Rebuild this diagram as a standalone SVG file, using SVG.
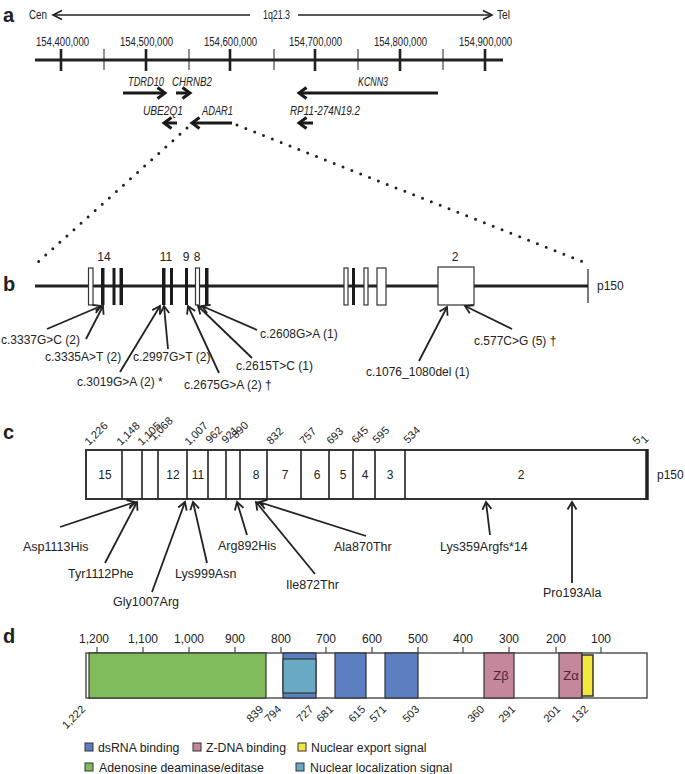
<svg xmlns="http://www.w3.org/2000/svg" xmlns:xlink="http://www.w3.org/1999/xlink" width="685" height="774" viewBox="0 0 685 774">
<style>
text{font-family:"Liberation Sans",Arial,sans-serif;fill:#222}
.pl{font-size:20px;font-weight:bold}
.sa{font-size:12.5px}
.gi{font-size:12px;font-style:italic}
.mb{font-size:12px}
.mc{font-size:12.5px}
.rl{font-size:11px}
.ax{font-size:12px}
.lg{font-size:12.3px}
.ln{stroke:#222;fill:none}
.ex{fill:#fff;stroke:#333;stroke-width:1.2}
.bk{fill:#1a1a1a}
.dot{stroke:#222;stroke-width:3;stroke-linecap:round;stroke-dasharray:0 9.5;fill:none}
.ar{stroke:#222;stroke-width:1.8;fill:none;marker-end:url(#ah)}
.ga{stroke:#1a1a1a;stroke-width:3;fill:none;marker-end:url(#gh)}
.dom{stroke:#333;stroke-width:1.2}
</style>
<defs>
<marker id="ah" markerUnits="userSpaceOnUse" markerWidth="14" markerHeight="14" viewBox="-10 -7 14 14" refX="0" refY="0" orient="auto"><path d="M-7.5,-4.5 L0,0 L-7.5,4.5" fill="none" stroke="#222" stroke-width="1.8"/></marker>
<marker id="gh" markerUnits="userSpaceOnUse" markerWidth="16" markerHeight="16" viewBox="-12 -8 16 16" refX="0" refY="0" orient="auto"><path d="M-7.5,-5.5 L0,0 L-7.5,5.5" fill="none" stroke="#1a1a1a" stroke-width="3"/></marker>
<marker id="th" markerUnits="userSpaceOnUse" markerWidth="16" markerHeight="16" viewBox="-12 -8 16 16" refX="0" refY="0" orient="auto"><path d="M-9,-4.5 L0,0 L-9,4.5" fill="none" stroke="#222" stroke-width="1.6"/></marker>
<path id="c1" d="M89,446 l40,-40"/>
<path id="c2" d="M121,446 l40,-40"/>
<path id="c3" d="M142,446 l40,-40"/>
<path id="c4" d="M154,441 l40,-40"/>
<path id="c5" d="M189,446 l40,-40"/>
<path id="c6" d="M210,444 l40,-40"/>
<path id="c7" d="M226,444 l40,-40"/>
<path id="c8" d="M236,439 l40,-40"/>
<path id="c9" d="M271,445 l40,-40"/>
<path id="c10" d="M304,445 l40,-40"/>
<path id="c11" d="M331,445 l40,-40"/>
<path id="c12" d="M356,444 l40,-40"/>
<path id="c13" d="M377,444 l40,-40"/>
<path id="c14" d="M408,444 l40,-40"/>
<path id="c15" d="M637,445 l40,-40"/>
<path id="c16" d="M645,444 l40,-40"/>
<path id="d1" d="M46,750 L86,710"/>
<path id="d2" d="M224,750 L264,710"/>
<path id="d3" d="M242,750 L282,710"/>
<path id="d4" d="M274,750 L314,710"/>
<path id="d5" d="M294,750 L334,710"/>
<path id="d6" d="M326,750 L366,710"/>
<path id="d7" d="M347,750 L387,710"/>
<path id="d8" d="M380,750 L420,710"/>
<path id="d9" d="M445,750 L485,710"/>
<path id="d10" d="M476,750 L516,710"/>
<path id="d11" d="M521,750 L561,710"/>
<path id="d12" d="M549,750 L589,710"/>
</defs>

<!-- Panel a -->
<g id="panel-a">
<text class="pl" x="3" y="22">a</text>
<text class="sa" x="29" y="19" textLength="18" lengthAdjust="spacingAndGlyphs">Cen</text>
<text class="sa" x="263" y="19" textLength="27" lengthAdjust="spacingAndGlyphs">1q21.3</text>
<text class="sa" x="497" y="19" textLength="13" lengthAdjust="spacingAndGlyphs">Tel</text>
<path d="M250,15 H53" class="ln" stroke-width="1.5" marker-end="url(#th)"/>
<path d="M298,15 H492" class="ln" stroke-width="1.5" marker-end="url(#th)"/>
<g id="scale">
<path d="M35,60 H503" class="ln" stroke-width="3"/>
<path d="M61,49 V71 M146,49 V71 M230,49 V71 M315,49 V71 M400,49 V71 M485,49 V71" class="ln" stroke-width="2.6"/>
<path d="M104,49 V70 M189,49 V70 M274,49 V70 M358,49 V70 M443,49 V70" class="ln" stroke-width="1"/>
<text class="sa" x="36" y="46" textLength="53" lengthAdjust="spacingAndGlyphs">154,400,000</text>
<text class="sa" x="120" y="46" textLength="53" lengthAdjust="spacingAndGlyphs">154,500,000</text>
<text class="sa" x="204" y="46" textLength="53" lengthAdjust="spacingAndGlyphs">154,600,000</text>
<text class="sa" x="289" y="46" textLength="53" lengthAdjust="spacingAndGlyphs">154,700,000</text>
<text class="sa" x="374" y="46" textLength="53" lengthAdjust="spacingAndGlyphs">154,800,000</text>
<text class="sa" x="459" y="46" textLength="53" lengthAdjust="spacingAndGlyphs">154,900,000</text>
</g>
<g id="gene-TDRD10"><text class="gi" x="128" y="86" textLength="36" lengthAdjust="spacingAndGlyphs">TDRD10</text><path d="M123,93 H165" class="ga"/></g>
<g id="gene-CHRNB2"><text class="gi" x="172" y="86" textLength="40" lengthAdjust="spacingAndGlyphs">CHRNB2</text><path d="M176,93 H190" class="ga"/></g>
<g id="gene-KCNN3"><text class="gi" x="358" y="86" textLength="30" lengthAdjust="spacingAndGlyphs">KCNN3</text><path d="M438,93 H299" class="ga"/></g>
<g id="gene-UBE2Q1"><text class="gi" x="143" y="115" textLength="40" lengthAdjust="spacingAndGlyphs">UBE2Q1</text><path d="M177,123 H164" class="ga"/></g>
<g id="gene-ADAR1"><text class="gi" x="202" y="115" textLength="31" lengthAdjust="spacingAndGlyphs">ADAR1</text><path d="M232,123 H192" class="ga"/></g>
<g id="gene-RP11"><text class="gi" x="290" y="115" textLength="70" lengthAdjust="spacingAndGlyphs">RP11-274N19.2</text><path d="M313,123 H299" class="ga"/></g>
<path d="M187,128 L38,262" class="dot"/>
<path d="M237,125 L586,263" class="dot"/>
</g>

<!-- Panel b -->
<g id="panel-b">
<text class="pl" x="3" y="291">b</text>
<path d="M35,286 H588" class="ln" stroke-width="3"/>
<path d="M588,269 V303" class="ln" stroke-width="1.2"/>
<text class="mb" x="597" y="290">p150</text>
<g id="exons">
<rect class="ex" x="88.5" y="268" width="4.5" height="37"/>
<rect class="bk" x="101" y="268" width="3.5" height="37"/>
<rect class="bk" x="112.5" y="268" width="3" height="37"/>
<rect class="bk" x="119.5" y="268" width="3.5" height="37"/>
<rect class="bk" x="162" y="268" width="3.5" height="37"/>
<rect class="bk" x="170" y="268" width="3" height="37"/>
<rect class="bk" x="185" y="268" width="3" height="37"/>
<rect class="ex" x="195.5" y="268" width="4" height="37"/>
<rect class="bk" x="205" y="268" width="3.5" height="37"/>
<rect class="ex" x="344" y="268" width="4" height="37"/>
<rect class="bk" x="352" y="268" width="3" height="37"/>
<rect class="ex" x="364" y="268" width="4" height="37"/>
<rect class="ex" x="377" y="268" width="9" height="37"/>
<rect class="ex" x="438" y="267" width="36" height="38"/>
</g>
<text class="mb" x="104" y="261" text-anchor="middle">14</text>
<text class="mb" x="166" y="261" text-anchor="middle">11</text>
<text class="mb" x="186" y="261" text-anchor="middle">9</text>
<text class="mb" x="197" y="261" text-anchor="middle">8</text>
<text class="mb" x="455" y="261" text-anchor="middle">2</text>
<g id="b-mutations">
<text class="mb" x="1" y="344">c.3337G&gt;C (2)</text>
<text class="mb" x="45" y="361">c.3335A&gt;T (2)</text>
<text class="mb" x="77" y="386">c.3019G&gt;A (2) *</text>
<text class="mb" x="133" y="361">c.2997G&gt;T (2)</text>
<text class="mb" x="184" y="389">c.2675G&gt;A (2) †</text>
<text class="mb" x="236" y="370">c.2615T&gt;C (1)</text>
<text class="mb" x="260" y="338">c.2608G&gt;A (1)</text>
<text class="mb" x="366" y="376">c.1076_1080del (1)</text>
<text class="mb" x="474" y="345">c.577C&gt;G (5) †</text>
</g>
</g>

<!-- Panel c -->
<g id="panel-c">
<text class="pl" x="3" y="439">c</text>
<rect x="86" y="450" width="561" height="49" fill="#fff" stroke="#333" stroke-width="2"/>
<path d="M647,449 V500" class="ln" stroke-width="3.5"/>
<path d="M122,450 V499 M142,450 V499 M158,450 V499 M187,450 V499 M208,450 V499 M226,450 V499 M240,450 V499 M267,450 V499 M301,450 V499 M329,450 V499 M353,450 V499 M375,450 V499 M405,450 V499" class="ln" stroke-width="1.6" stroke="#333"/>
<text class="mb" x="105" y="479" text-anchor="middle">15</text>
<text class="mb" x="173" y="479" text-anchor="middle">12</text>
<text class="mb" x="198" y="479" text-anchor="middle">11</text>
<text class="mb" x="256" y="479" text-anchor="middle">8</text>
<text class="mb" x="285" y="479" text-anchor="middle">7</text>
<text class="mb" x="317" y="479" text-anchor="middle">6</text>
<text class="mb" x="343" y="479" text-anchor="middle">5</text>
<text class="mb" x="365" y="479" text-anchor="middle">4</text>
<text class="mb" x="390" y="479" text-anchor="middle">3</text>
<text class="mb" x="521" y="479" text-anchor="middle">2</text>
<text class="mb" x="657" y="479">p150</text>
<g id="c-positions">
<text class="rl"><textPath href="#c1" xlink:href="#c1">1,226</textPath></text>
<text class="rl"><textPath href="#c2" xlink:href="#c2">1,148</textPath></text>
<text class="rl"><textPath href="#c3" xlink:href="#c3">1,105</textPath></text>
<text class="rl"><textPath href="#c4" xlink:href="#c4">1,068</textPath></text>
<text class="rl"><textPath href="#c5" xlink:href="#c5">1,007</textPath></text>
<text class="rl"><textPath href="#c6" xlink:href="#c6">962</textPath></text>
<text class="rl"><textPath href="#c7" xlink:href="#c7">921</textPath></text>
<text class="rl"><textPath href="#c8" xlink:href="#c8">890</textPath></text>
<text class="rl"><textPath href="#c9" xlink:href="#c9">832</textPath></text>
<text class="rl"><textPath href="#c10" xlink:href="#c10">757</textPath></text>
<text class="rl"><textPath href="#c11" xlink:href="#c11">693</textPath></text>
<text class="rl"><textPath href="#c12" xlink:href="#c12">645</textPath></text>
<text class="rl"><textPath href="#c13" xlink:href="#c13">595</textPath></text>
<text class="rl"><textPath href="#c14" xlink:href="#c14">534</textPath></text>
<text class="rl"><textPath href="#c15" xlink:href="#c15">5</textPath></text>
<text class="rl"><textPath href="#c16" xlink:href="#c16">1</textPath></text>
</g>
<g id="c-mutations">
<text class="mc" x="23" y="551">Asp1113His</text>
<text class="mc" x="68" y="578">Tyr1112Phe</text>
<text class="mc" x="113" y="606">Gly1007Arg</text>
<text class="mc" x="175" y="578">Lys999Asn</text>
<text class="mc" x="218" y="550">Arg892His</text>
<text class="mc" x="286" y="589">Ile872Thr</text>
<text class="mc" x="334" y="551">Ala870Thr</text>
<text class="mc" x="440" y="551">Lys359Argfs*14</text>
<text class="mc" x="543" y="597">Pro193Ala</text>
</g>
</g>

<!-- Connectors (mutation arrows) -->
<g id="connectors">
<path class="ar" d="M47,329 L101,306"/>
<path class="ar" d="M86,339 L103,306"/>
<path class="ar" d="M120,372 L160,306"/>
<path class="ar" d="M168,349 L164,306"/>
<path class="ar" d="M219,373 L188,306"/>
<path class="ar" d="M252,358 L198,306"/>
<path class="ar" d="M257,330 L202,306"/>
<path class="ar" d="M419,361 L447,307"/>
<path class="ar" d="M512,329 L465,306"/>
<path class="ar" d="M60,527 L135,502"/>
<path class="ar" d="M105,563 L137,502"/>
<path class="ar" d="M152,592 L185,502"/>
<path class="ar" d="M207,563 L193,502"/>
<path class="ar" d="M247,535 L237,502"/>
<path class="ar" d="M315,574 L256,502"/>
<path class="ar" d="M366,536 L259,502"/>
<path class="ar" d="M490,535 L486,502"/>
<path class="ar" d="M572,583 L572,502"/>
</g>

<!-- Panel d -->
<g id="panel-d">
<text class="pl" x="3" y="643">d</text>
<g id="d-axis">
<path d="M97,647 V653 M143,647 V653 M189,647 V653 M235,647 V653 M281,647 V653 M326,647 V653 M372,647 V653 M418,647 V653 M463,647 V653 M509,647 V653 M556,647 V653 M601,647 V653" class="ln" stroke-width="1" stroke="#444"/>
<text class="ax" x="94" y="643" text-anchor="middle">1,200</text>
<text class="ax" x="143" y="643" text-anchor="middle">1,100</text>
<text class="ax" x="189" y="643" text-anchor="middle">1,000</text>
<text class="ax" x="235" y="643" text-anchor="middle">900</text>
<text class="ax" x="281" y="643" text-anchor="middle">800</text>
<text class="ax" x="326" y="643" text-anchor="middle">700</text>
<text class="ax" x="372" y="643" text-anchor="middle">600</text>
<text class="ax" x="418" y="643" text-anchor="middle">500</text>
<text class="ax" x="463" y="643" text-anchor="middle">400</text>
<text class="ax" x="509" y="643" text-anchor="middle">300</text>
<text class="ax" x="556" y="643" text-anchor="middle">200</text>
<text class="ax" x="601" y="643" text-anchor="middle">100</text>
</g>
<rect x="86" y="653" width="561" height="45" fill="#fff" stroke="#555" stroke-width="1.5"/>
<g id="d-domains">
<rect class="dom" x="89" y="653" width="177" height="45" fill="#80bb5c"/>
<rect class="dom" x="283" y="653" width="33" height="45" fill="#5b7fc0"/>
<rect class="dom" x="283" y="659" width="33" height="34" fill="#6aa9c3"/>
<rect class="dom" x="335" y="653" width="31" height="45" fill="#5b7fc0"/>
<rect class="dom" x="385" y="653" width="33" height="45" fill="#5b7fc0"/>
<rect class="dom" x="484" y="653" width="30" height="45" fill="#c4879c"/>
<rect class="dom" x="559" y="653" width="23" height="45" fill="#c4879c"/>
<rect x="582" y="655" width="11" height="41" fill="#f3e93a" stroke="#333" stroke-width="1.5"/>
<text x="501" y="680" font-size="13" text-anchor="middle" style="fill:#4a2838">Zβ</text>
<text x="571" y="680" font-size="13" text-anchor="middle" style="fill:#4a2838">Zα</text>
</g>
<g id="d-positions">
<text class="rl" text-anchor="end"><textPath href="#d1" xlink:href="#d1" startOffset="100%">1,222</textPath></text>
<text class="rl" text-anchor="end"><textPath href="#d2" xlink:href="#d2" startOffset="100%">839</textPath></text>
<text class="rl" text-anchor="end"><textPath href="#d3" xlink:href="#d3" startOffset="100%">794</textPath></text>
<text class="rl" text-anchor="end"><textPath href="#d4" xlink:href="#d4" startOffset="100%">727</textPath></text>
<text class="rl" text-anchor="end"><textPath href="#d5" xlink:href="#d5" startOffset="100%">681</textPath></text>
<text class="rl" text-anchor="end"><textPath href="#d6" xlink:href="#d6" startOffset="100%">615</textPath></text>
<text class="rl" text-anchor="end"><textPath href="#d7" xlink:href="#d7" startOffset="100%">571</textPath></text>
<text class="rl" text-anchor="end"><textPath href="#d8" xlink:href="#d8" startOffset="100%">503</textPath></text>
<text class="rl" text-anchor="end"><textPath href="#d9" xlink:href="#d9" startOffset="100%">360</textPath></text>
<text class="rl" text-anchor="end"><textPath href="#d10" xlink:href="#d10" startOffset="100%">291</textPath></text>
<text class="rl" text-anchor="end"><textPath href="#d11" xlink:href="#d11" startOffset="100%">201</textPath></text>
<text class="rl" text-anchor="end"><textPath href="#d12" xlink:href="#d12" startOffset="100%">132</textPath></text>
</g>
<g id="legend">
<rect x="85" y="743" width="8" height="8" fill="#5b7fc0" stroke="#333" stroke-width="1"/>
<text class="lg" x="98" y="751.5">dsRNA binding</text>
<rect x="193" y="743" width="8" height="8" fill="#c4879c" stroke="#333" stroke-width="1"/>
<text class="lg" x="206" y="751.5">Z-DNA binding</text>
<rect x="298" y="743" width="8" height="8" fill="#f3e93a" stroke="#333" stroke-width="1"/>
<text class="lg" x="311" y="751.5">Nuclear export signal</text>
<rect x="85" y="763" width="8" height="8" fill="#80bb5c" stroke="#333" stroke-width="1"/>
<text class="lg" x="99" y="771.5">Adenosine deaminase/editase</text>
<rect x="296" y="763" width="8" height="8" fill="#6aa9c3" stroke="#333" stroke-width="1"/>
<text class="lg" x="310" y="771.5">Nuclear localization signal</text>
</g>
</g>
</svg>
